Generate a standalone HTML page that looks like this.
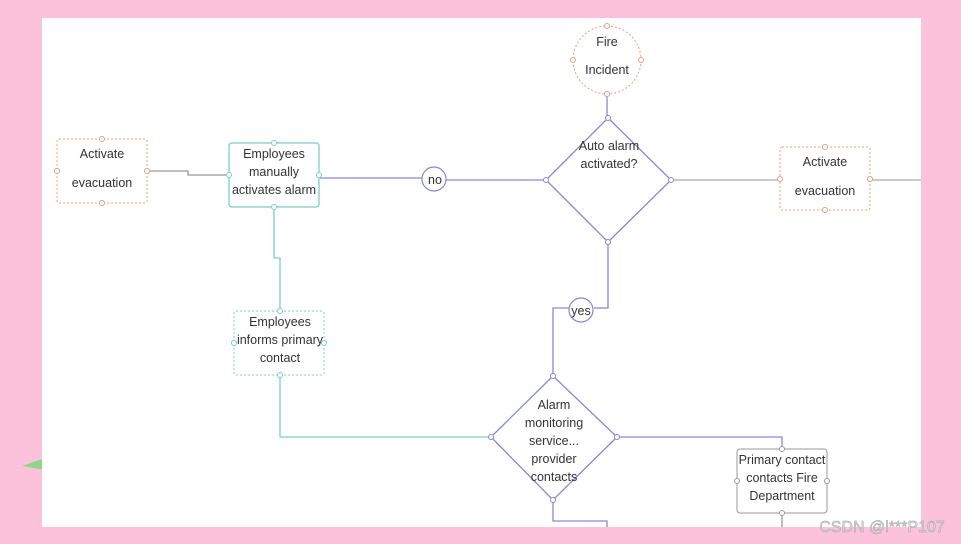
<!DOCTYPE html>
<html><head><meta charset="utf-8"><style>
html,body{margin:0;padding:0;background:#fcc2dc;width:961px;height:544px;overflow:hidden;font-family:"Liberation Sans",sans-serif}
svg{position:absolute;left:0;top:0}
text{font-family:"Liberation Sans",sans-serif;font-size:12.5px;fill:#333;text-anchor:middle}
</style></head><body>
<svg width="961" height="544" viewBox="0 0 961 544">
<rect x="0" y="0" width="961" height="544" fill="#fcc2dc"/>
<polygon points="22,466 45,458 45,470" fill="#8fd68a"/>
<rect x="42" y="18" width="879" height="509" fill="#fff"/>
<!-- connectors -->
<g fill="none" stroke-width="1.3">
<path d="M607,94 V118" stroke="#8a86d8"/>
<path d="M671,180 H780" stroke="#aaa"/>
<path d="M870,180 H921" stroke="#aaa"/>
<path d="M546,180 H446" stroke="#8a86d8"/>
<path d="M422,178 H320" stroke="#8a86d8"/>
<path d="M148,171 H188 V175 H229" stroke="#999"/>
<path d="M274,207 V258 H280 V311" stroke="#7ccfc0"/>
<path d="M280,375 V437 H491" stroke="#7ccfc0"/>
<path d="M608,242 V308 H594" stroke="#8a86d8"/>
<path d="M569,308 H553 V376" stroke="#8a86d8"/>
<path d="M617,437 H782 V449" stroke="#8a86d8"/>
<path d="M553,500 V521 H607 V527" stroke="#8a86d8"/>
<path d="M782,513 V527" stroke="#999"/>
</g>
<!-- nodes -->
<circle cx="607" cy="60" r="34" fill="#fff" stroke="#e8a080" stroke-dasharray="2,2"/>
<text x="607" y="46">Fire</text><text x="607" y="74">Incident</text>
<polygon points="608,118 671,180 608,242 546,180" fill="#fff" stroke="#8a86d8" stroke-width="1.3"/>
<text x="609" y="150">Auto alarm</text><text x="609" y="168">activated?</text>
<rect x="780" y="147" width="90" height="63" fill="#fff" stroke="#e8a080" stroke-dasharray="2,2" rx="2"/>
<text x="825" y="166">Activate</text><text x="825" y="195">evacuation</text>
<rect x="57" y="139" width="90" height="64" fill="#fff" stroke="#e8a080" stroke-dasharray="2,2" rx="2"/>
<text x="102" y="158">Activate</text><text x="102" y="187">evacuation</text>
<circle cx="434" cy="179" r="12" fill="#fff" stroke="#8a86d8" stroke-width="1.2"/>
<text x="435" y="184">no</text>
<rect x="229" y="143" width="90" height="64" fill="#fff" stroke="#7ccfc0" stroke-width="1.3" rx="3"/>
<text x="274" y="158">Employees</text><text x="274" y="176">manually</text><text x="274" y="194">activates alarm</text>
<rect x="234" y="311" width="90" height="64" fill="#fff" stroke="#7ccfc0" stroke-dasharray="2,2" rx="2"/>
<text x="280" y="326">Employees</text><text x="280" y="344">informs primary</text><text x="280" y="362">contact</text>
<circle cx="581" cy="310" r="12" fill="#fff" stroke="#8a86d8" stroke-width="1.2"/>
<text x="581" y="315">yes</text>
<polygon points="553,376 617,437 553,500 491,437" fill="#fff" stroke="#8a86d8" stroke-width="1.3"/>
<text x="554" y="409">Alarm</text><text x="554" y="427">monitoring</text><text x="554" y="445">service...</text><text x="554" y="463">provider</text><text x="554" y="481">contacts</text>
<rect x="737" y="449" width="90" height="64" fill="#fff" stroke="#999" rx="3"/>
<text x="782" y="464">Primary contact</text><text x="782" y="482">contacts Fire</text><text x="782" y="500">Department</text>
<!-- handles -->
<g fill="#fff" stroke="#e8a080" stroke-width="1">
<circle cx="607" cy="26" r="2.5"/><circle cx="573" cy="60" r="2.5"/><circle cx="641" cy="60" r="2.5"/><circle cx="607" cy="94" r="2.5"/>
<circle cx="825" cy="147" r="2.5"/><circle cx="780" cy="179" r="2.5"/><circle cx="870" cy="179" r="2.5"/><circle cx="825" cy="210" r="2.5"/>
<circle cx="102" cy="139" r="2.5"/><circle cx="57" cy="171" r="2.5"/><circle cx="147" cy="171" r="2.5"/><circle cx="102" cy="203" r="2.5"/>
</g>
<g fill="#fff" stroke="#7ccfc0" stroke-width="1">
<circle cx="274" cy="143" r="2.5"/><circle cx="229" cy="175" r="2.5"/><circle cx="319" cy="175" r="2.5"/><circle cx="274" cy="207" r="2.5"/>
<circle cx="280" cy="311" r="2.5"/><circle cx="234" cy="343" r="2.5"/><circle cx="324" cy="343" r="2.5"/><circle cx="280" cy="375" r="2.5"/>
</g>
<g fill="#fff" stroke="#8a86d8" stroke-width="1">
<circle cx="608" cy="118" r="2.5"/><circle cx="671" cy="180" r="2.5"/><circle cx="608" cy="242" r="2.5"/><circle cx="546" cy="180" r="2.5"/>
<circle cx="553" cy="376" r="2.5"/><circle cx="617" cy="437" r="2.5"/><circle cx="553" cy="500" r="2.5"/><circle cx="491" cy="437" r="2.5"/>
</g>
<g fill="#fff" stroke="#999" stroke-width="1">
<circle cx="782" cy="449" r="2.5"/><circle cx="737" cy="481" r="2.5"/><circle cx="827" cy="481" r="2.5"/><circle cx="782" cy="513" r="2.5"/>
</g>
<text x="882" y="532" style="font-size:16px;fill:#d8d8d8;stroke:#999;stroke-width:0.4">CSDN @l***P107</text>
</svg>
</body></html>
